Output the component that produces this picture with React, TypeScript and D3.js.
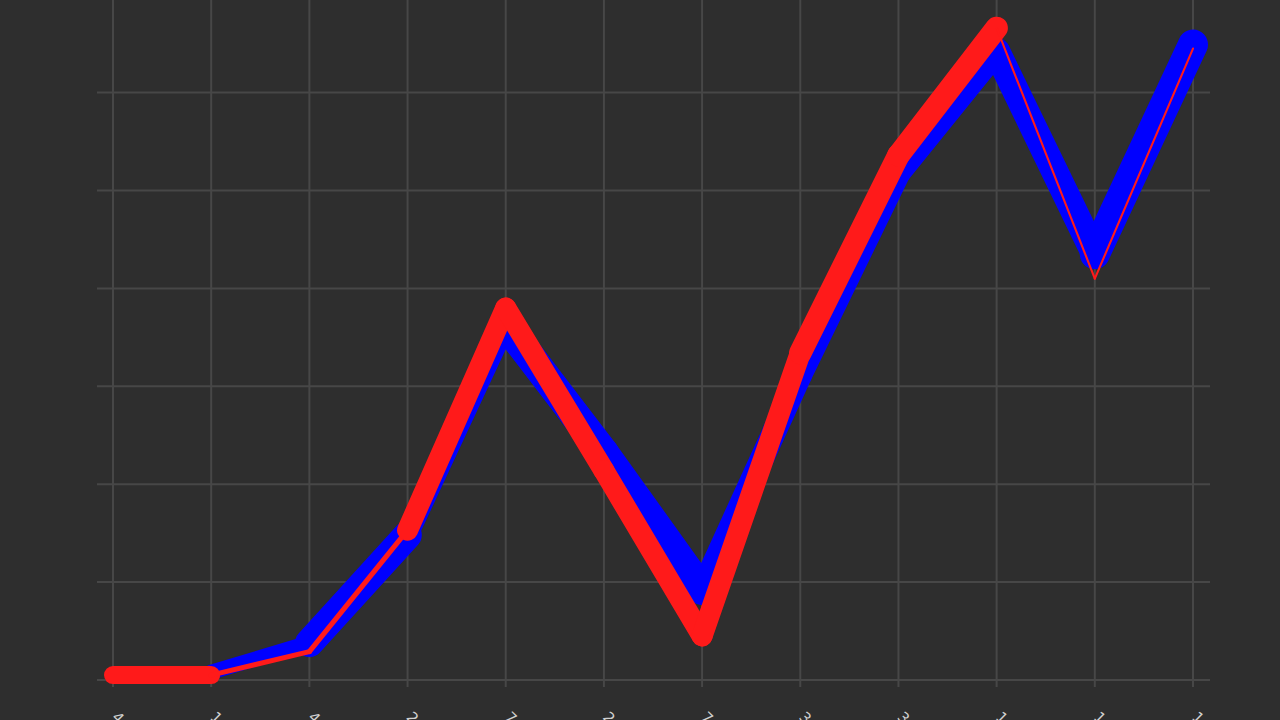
import React, { useEffect, useRef } from 'react';
import * as d3 from 'd3';

// x categories (tick labels sit mostly below the visible frame)
const categories = ['4.0', '1.5', '4.5', '2.0', '7.0', '2.5', '7.5', '3.0', '3.5', '1.0', '1.1', '1.2'];

// series values (y units, one grid step = 1)
const blueValues = [0.05, 0.08, 0.38, 1.48, 3.63, 2.32, 0.92, 3.12, 5.18, 6.42, 4.35, 6.49];
const redValues = [0.05, 0.05, 0.29, 1.53, 3.80, 2.14, 0.45, 3.34, 5.36, 6.66, 4.10, 6.45];

// per-segment weight (drives the stroke width of each segment)
const blueWeights = [4, 5, 9.5, 7, 10, 10, 8, 8, 8, 9, 10];
const redWeights = [6, 1.7, 1.7, 7, 7, 7, 7, 7.5, 7.5, 0.7, 0.7];

const yTicks = [0, 1, 2, 3, 4, 5, 6, 7];

const width = 1280;
const height = 720;
const bg = '#2e2e2e';
const gridColor = '#474747';

type Seg = { a: { cat: string; v: number }; b: { cat: string; v: number }; w: number };

function App() {
  const ref = useRef<SVGSVGElement>(null);

  useEffect(() => {
    if (!ref.current) return;
    const svg = d3.select(ref.current);
    svg.selectAll('*').remove();

    svg.append('rect')
      .attr('width', width)
      .attr('height', height)
      .attr('fill', bg);

    const x = d3.scalePoint<string>()
      .domain(categories)
      .range([113, 1193]);

    const y = d3.scaleLinear()
      .domain([0, 7])
      .range([680, 680 - 7 * 97.9]);

    // grid
    const grid = svg.append('g');
    grid.selectAll('.vgrid')
      .data(categories)
      .enter()
      .append('line')
      .attr('class', 'vgrid')
      .attr('x1', d => x(d)!)
      .attr('x2', d => x(d)!)
      .attr('y1', 0)
      .attr('y2', 687)
      .style('stroke', gridColor)
      .style('stroke-width', 2);
    grid.selectAll('.hgrid')
      .data(yTicks)
      .enter()
      .append('line')
      .attr('class', 'hgrid')
      .attr('x1', 97)
      .attr('x2', 1210)
      .attr('y1', d => y(d))
      .attr('y2', d => y(d))
      .style('stroke', gridColor)
      .style('stroke-width', 2);

    // tick labels, rotated, mostly cut off by the bottom edge (as in the reference)
    svg.append('g')
      .selectAll('text')
      .data(categories)
      .enter()
      .append('text')
      .attr('transform', d => `translate(${x(d)! - 2}, 718) rotate(45)`)
      .attr('text-anchor', 'start')
      .style('font-family', 'DejaVu Sans, sans-serif')
      .style('font-size', '15px')
      .style('fill', '#d0d0d0')
      .text(d => d);

    const widthScale = d3.scaleLinear().domain([0, 10]).range([0, 30]);

    const segments = (values: number[], weights: number[]): Seg[] =>
      d3.pairs(values.map((v, i) => ({ cat: categories[i], v })))
        .map(([a, b], i) => ({ a, b, w: weights[i] }));

    const drawSegs = (segs: Seg[], color: string) => {
      svg.append('g')
        .selectAll('line')
        .data(segs)
        .enter()
        .append('line')
        .attr('x1', d => x(d.a.cat)!)
        .attr('y1', d => y(d.a.v))
        .attr('x2', d => x(d.b.cat)!)
        .attr('y2', d => y(d.b.v))
        .style('stroke', color)
        .style('stroke-width', d => widthScale(d.w))
        .style('stroke-linecap', 'round');
    };

    drawSegs(segments(blueValues, blueWeights), '#0000ff');
    drawSegs(segments(redValues, redWeights), '#ff1a1a');
  }, []);

  return (
    <div style={{ position: 'absolute', left: 0, top: 0, width, height, overflow: 'hidden' }}>
      <svg ref={ref} width={width} height={height} style={{ display: 'block' }}></svg>
    </div>
  );
}

export default App;
